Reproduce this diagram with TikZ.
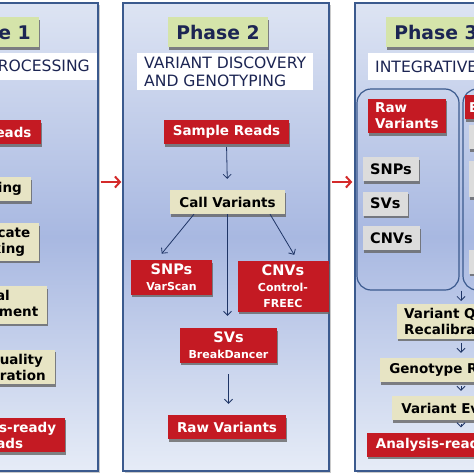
\documentclass[tikz,border=0pt]{standalone}
\usepackage{fontspec}
\setmainfont{DejaVu Sans}
\usepackage{xcolor}
\definecolor{ink}{HTML}{1C2553}
\definecolor{frame}{HTML}{3B5A8E}
\definecolor{boxred}{HTML}{C41A23}
\definecolor{boxtan}{HTML}{E7E4C4}
\definecolor{boxgreen}{HTML}{D5E4AA}
\definecolor{boxgrey}{HTML}{DCDCDC}
\definecolor{flow}{HTML}{1F3566}
\definecolor{hand}{HTML}{D42A2A}
\definecolor{bgtop}{HTML}{DDE4F3}
\definecolor{bgmid}{HTML}{A8B8E1}
\definecolor{bgbot}{HTML}{E6ECF7}
\usepackage{tikz}
\usetikzlibrary{positioning,calc,arrows.meta,shadows}
\newcommand\toolname[1]{{\fontsize{11}{13}\selectfont #1}}

\begin{document}
\begin{tikzpicture}[x=1pt,y=-1pt,font=\bfseries\fontsize{13.5}{16}\selectfont,
  sh/.style={drop shadow={shadow xshift=1pt,shadow yshift=-2.5pt,fill=black!60,opacity=.8}},
  ph/.style={draw=frame,line width=1.4pt,top color=bgtop,bottom color=bgbot,middle color=bgmid,
    drop shadow={shadow xshift=1.5pt,shadow yshift=-2pt,fill=black!35,opacity=.6}},
  bx/.style={inner xsep=9pt,inner ysep=4pt,minimum height=24pt,align=center,sh},
  rd/.style={bx,fill=boxred,text=white},
  tn/.style={bx,fill=boxtan,text=black},
  gy/.style={bx,fill=boxgrey,text=black,inner xsep=7pt,font=\bfseries\fontsize{14.5}{17}\selectfont},
  tt/.style={fill=boxgreen,text=ink,font=\bfseries\fontsize{18.8}{21}\selectfont,minimum height=30pt,inner xsep=8pt,sh},
  sb/.style={fill=white,text=ink,font=\fontsize{15.6}{18}\selectfont,align=left,inner xsep=7pt,minimum height=27pt},
  ar/.style={draw=flow,line width=0.8pt,-{Straight Barb[length=4pt,width=8pt]}},
  hop/.style={draw=hand,line width=2pt,-{Straight Barb[length=5pt,width=11pt]}},
  grp/.style={draw=frame,line width=1.2pt,rounded corners=14pt}]
  \useasboundingbox (0,0) rectangle (474,474);
  \clip (0,0) rectangle (474,474);
  % the three phases
  \node[ph,minimum width=210pt,minimum height=468pt] (p1) at (-7,237) {};
  \node[ph,minimum width=206pt,minimum height=468pt] (p2) at (226,237) {};
  \node[ph,minimum width=217pt,minimum height=468pt] (p3) at (463.5,237) {};
  \draw[hop,shorten <=2pt,shorten >=1pt] ([yshift=55pt]p1.east) -- ([yshift=55pt]p2.west);
  \draw[hop,shorten <=2pt,shorten >=2pt] ([yshift=55pt]p2.east) -- ([yshift=55pt]p3.west);

  % phase 1
  \node[tt] (t1) at (-11,32) {Phase 1};
  \node[sb,anchor=east] (s1) at (97,66) {DATA PROCESSING};
  \node[rd] (rr) at (-10,132) {Raw Reads};
  \node[tn] (map) at (-11,189) {Mapping};
  \node[tn] (dup) at (-6,242) {Duplicate\\Marking};
  \node[tn] (loc) at (-10,305) {Local\\Realignment};
  \node[tn] (bqr) at (-5,367) {Base Quality\\Recalibration};
  \node[rd] (arr) at (0,435) {Analysis-ready\\Reads};
  \foreach \p/\q in {rr/map,map/dup,dup/loc,loc/bqr,bqr/arr}
    \draw[ar,shorten <=3pt,shorten >=4pt] (\p.south) -- (\p.south |- \q.north);

  % phase 2
  \node[tt] (t2) at (218,32) {Phase 2};
  \node[sb,anchor=north west] (s2) at (137,53) {VARIANT DISCOVERY\\AND GENOTYPING};
  \node[rd] (sr) at (226.5,132) {Sample Reads};
  \node[tn] (cv) at (227.5,202) {Call Variants};
  \node[rd,minimum width=81pt] (snp) at (171.5,277.5) {\fontsize{14.5}{16}\selectfont SNPs\\\toolname{VarScan}};
  \node[rd,minimum width=91pt] (cnv) at (283,286.5) {\fontsize{14.5}{16}\selectfont CNVs\\\toolname{Control-}\\\toolname{FREEC}};
  \node[rd] (sv) at (228.5,345.5) {\fontsize{14.5}{16}\selectfont SVs\\\toolname{BreakDancer}};
  \node[rd] (rv) at (227,427) {Raw Variants};
  \draw[ar,shorten <=3pt,shorten >=11pt] (sr.south) -- (cv.north);
  \draw[ar,shorten >=8pt] (cv.200) -- (snp.130);
  \draw[ar,shorten >=12pt] (cv.south) -- (cv.south |- sv.north);
  \draw[ar,shorten >=7pt] (cv.344) -- (cnv.60);
  \draw[ar,shorten <=11pt,shorten >=11pt] (sv.south) -- (sv.south |- rv.north);

  % phase 3
  \node[tt] (t3) at (436,32) {Phase 3};
  \node[sb,anchor=west] (s3) at (368,66.5) {INTEGRATIVE ANALYSIS};
  \node[grp,minimum width=102pt,minimum height=201pt] (gl) at (408,189.5) {};
  \node[grp,minimum width=102pt,minimum height=201pt] (gr) at (514,189.5) {};
  \node[rd,anchor=west,align=left,inner xsep=7pt] (rv3) at (368,116) {Raw\\Variants};
  \node[gy,anchor=west] (g1) at (363,169) {SNPs};
  \node[gy,anchor=west] (g2) at (363,203.5) {SVs};
  \node[gy,anchor=west] (g3) at (363,238) {CNVs};
  \node[rd,anchor=west,inner xsep=4pt] (ext) at (465,107) {External Data};
  \node[gy,anchor=west] (e1) at (469,137) {Pedigrees};
  \node[gy,anchor=west,align=left] (e2) at (469,179) {Population\\structure};
  \node[gy,anchor=west] (e3) at (469,261.5) {Known variation};
  \node[tn,align=left,anchor=north west,inner xsep=7pt] (vqr) at (397,304) {Variant Quality\\Recalibration};
  \node[tn] (gen) at (472,370) {Genotype Refinement};
  \node[tn] (ve) at (471.5,408) {Variant Evaluation};
  \node[rd] (av) at (466,444.5) {Analysis-ready Variants};
  \coordinate (gj) at ($(gl.south east)!.5!(gr.south west)$);
  \draw[ar,shorten >=3pt] (gj) -- (gj |- vqr.north);
  \foreach \p/\q in {vqr/gen,gen/ve,ve/av}
    \draw[ar,shorten <=4pt,shorten >=5pt] (\p.south -| gj) -- (\q.north -| gj);
\end{tikzpicture}
\end{document}
